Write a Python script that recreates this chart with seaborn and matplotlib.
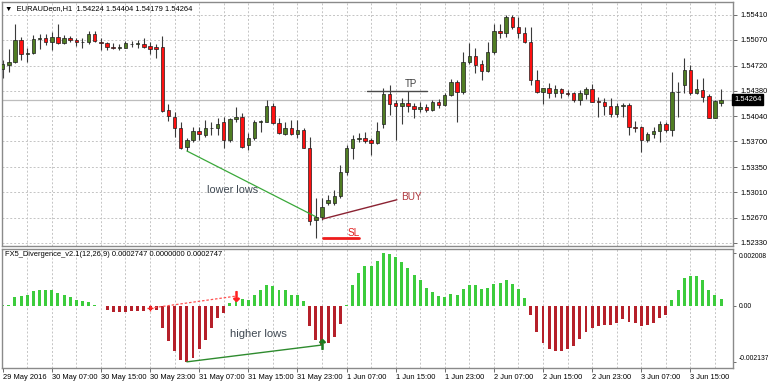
import numpy as np
import pandas as pd
import matplotlib
matplotlib.use("Agg")
import matplotlib.pyplot as plt
import seaborn as sns
from matplotlib.transforms import blended_transform_factory

# ---------------- data ----------------
opens = [
1.54677, 1.54731, 1.54767, 1.55069, 1.54879, 1.54889, 1.55082, 1.55092, 1.55038, 1.55113,
1.55024, 1.55100, 1.55073, 1.55038, 1.55046, 1.55150, 1.55046, 1.55024, 1.54978, 1.54956,
1.54965, 1.55019, 1.55011, 1.55011, 1.54992, 1.54970, 1.54970, 1.54123, 1.54032, 1.53884,
1.53623, 1.53718, 1.53839, 1.53785, 1.53876, 1.53884, 1.53957, 1.53718, 1.53997, 1.54032,
1.53650, 1.53749, 1.53965, 1.53965, 1.54177, 1.53943, 1.53795, 1.53876, 1.53795, 1.53853,
1.53614, 1.52637, 1.52681, 1.52862, 1.52862, 1.52961, 1.53289, 1.53614, 1.53731, 1.53749,
1.53718, 1.53673, 1.53930, 1.54335, 1.54213, 1.54177, 1.54213, 1.54177, 1.54132, 1.54167,
1.54123, 1.54227, 1.54190, 1.54325, 1.54505, 1.54362, 1.54767, 1.54849, 1.54740, 1.54650,
1.54903, 1.55190, 1.55159, 1.55383, 1.55240, 1.55159, 1.55046, 1.54528, 1.54362, 1.54416,
1.54348, 1.54407, 1.54357, 1.54348, 1.54258, 1.54335, 1.54407, 1.54240, 1.54227, 1.54181,
1.54065, 1.54181, 1.54190, 1.53897, 1.53897, 1.53718, 1.53795, 1.53839, 1.53930, 1.53853,
1.54362, 1.54461, 1.54663, 1.54348, 1.54393, 1.54316, 1.54019, 1.54224]

highs = [
1.54798, 1.54947, 1.55281, 1.55105, 1.54961, 1.55136, 1.55146, 1.55146, 1.55181, 1.55285,
1.55136, 1.55123, 1.55092, 1.55092, 1.55190, 1.55190, 1.55092, 1.55038, 1.55024, 1.55011,
1.55055, 1.55055, 1.55069, 1.55092, 1.55038, 1.55011, 1.55123, 1.54200, 1.54092, 1.53965,
1.53741, 1.53897, 1.53897, 1.53988, 1.53965, 1.54011, 1.54032, 1.54011, 1.54167, 1.54078,
1.53808, 1.53988, 1.53988, 1.54258, 1.54213, 1.54011, 1.53965, 1.53988, 1.53988, 1.53876,
1.53762, 1.52930, 1.52930, 1.52975, 1.53042, 1.53380, 1.53650, 1.53785, 1.53808, 1.53830,
1.53749, 1.53965, 1.54424, 1.54461, 1.54258, 1.54281, 1.54380, 1.54213, 1.54235, 1.54200,
1.54258, 1.54267, 1.54348, 1.54542, 1.54528, 1.54911, 1.55024, 1.54956, 1.54798, 1.55038,
1.55281, 1.55281, 1.55406, 1.55406, 1.55383, 1.55248, 1.55248, 1.54663, 1.54424, 1.54484,
1.54461, 1.54424, 1.54393, 1.54362, 1.54393, 1.54438, 1.54470, 1.54303, 1.54289, 1.54281,
1.54213, 1.54213, 1.54213, 1.53974, 1.53911, 1.53830, 1.53897, 1.53974, 1.53965, 1.54640,
1.54505, 1.54829, 1.54731, 1.54542, 1.54551, 1.54335, 1.54258, 1.54404]

lows = [
1.54559, 1.54640, 1.54754, 1.54798, 1.54775, 1.54875, 1.54943, 1.55001, 1.54933, 1.55015,
1.55011, 1.55046, 1.54992, 1.54965, 1.55011, 1.55038, 1.54933, 1.54933, 1.54947, 1.54933,
1.54956, 1.54978, 1.54956, 1.54965, 1.54875, 1.54821, 1.54100, 1.53974, 1.53762, 1.53595,
1.53569, 1.53695, 1.53718, 1.53762, 1.53785, 1.53785, 1.53605, 1.53695, 1.53965, 1.53605,
1.53582, 1.53718, 1.53830, 1.53957, 1.53930, 1.53795, 1.53785, 1.53785, 1.53741, 1.53605,
1.52569, 1.52390, 1.52637, 1.52840, 1.52840, 1.52930, 1.53245, 1.53461, 1.53695, 1.53673,
1.53515, 1.53659, 1.53876, 1.54055, 1.53718, 1.53934, 1.54100, 1.54019, 1.54100, 1.54100,
1.54109, 1.54146, 1.54177, 1.54316, 1.53957, 1.54335, 1.54740, 1.54619, 1.54528, 1.54640,
1.54875, 1.55092, 1.55113, 1.55217, 1.55092, 1.55024, 1.54461, 1.54348, 1.54200, 1.54281,
1.54303, 1.54285, 1.54316, 1.54235, 1.54190, 1.54271, 1.54227, 1.54032, 1.54055, 1.54032,
1.54032, 1.54032, 1.53785, 1.53830, 1.53560, 1.53695, 1.53741, 1.53695, 1.53830, 1.53776,
1.54032, 1.54348, 1.54325, 1.54335, 1.54227, 1.54011, 1.54011, 1.54179]

closes = [
1.54740, 1.54767, 1.55069, 1.54875, 1.54897, 1.55078, 1.55092, 1.55038, 1.55113, 1.55024,
1.55100, 1.55069, 1.55038, 1.55046, 1.55150, 1.55055, 1.55024, 1.54970, 1.54956, 1.54978,
1.55024, 1.55011, 1.55024, 1.54978, 1.54943, 1.54947, 1.54109, 1.54046, 1.53876, 1.53605,
1.53718, 1.53839, 1.53795, 1.53884, 1.53884, 1.53930, 1.53718, 1.53997, 1.54032, 1.53627,
1.53749, 1.53965, 1.53974, 1.54177, 1.53943, 1.53808, 1.53876, 1.53795, 1.53853, 1.53614,
1.52623, 1.52681, 1.52817, 1.52907, 1.52961, 1.53289, 1.53614, 1.53731, 1.53749, 1.53704,
1.53673, 1.53839, 1.54335, 1.54200, 1.54177, 1.54221, 1.54177, 1.54132, 1.54167, 1.54123,
1.54235, 1.54190, 1.54325, 1.54505, 1.54362, 1.54767, 1.54849, 1.54731, 1.54650, 1.54903,
1.55190, 1.55159, 1.55383, 1.55248, 1.55159, 1.55046, 1.54528, 1.54362, 1.54416, 1.54348,
1.54407, 1.54348, 1.54335, 1.54258, 1.54348, 1.54407, 1.54235, 1.54227, 1.54181, 1.54065,
1.54181, 1.54190, 1.53897, 1.53884, 1.53718, 1.53795, 1.53839, 1.53930, 1.53853, 1.54362,
1.54370, 1.54663, 1.54348, 1.54407, 1.54303, 1.54019, 1.54245, 1.54264]

hist = [
0.00004, 0.00004, 0.00033, 0.00039, 0.00042, 0.00057, 0.00063, 0.00063, 0.00061, 0.00051,
0.00042, 0.00035, 0.00025, 0.00019, 0.00016, 0.00006, 0.00001, -0.00013, -0.00022, -0.00024,
-0.00022, -0.00019, -0.00019, -0.00019, -0.00016, -0.00016, -0.00082, -0.00133, -0.00171, -0.00205,
-0.00212, -0.00196, -0.00163, -0.00129, -0.00082, -0.00047, -0.00028, 0.00010, 0.00029, 0.00027,
0.00025, 0.00044, 0.00061, 0.00080, 0.00077, 0.00063, 0.00061, 0.00044, 0.00042, 0.00020,
-0.00076, -0.00129, -0.00148, -0.00142, -0.00117, -0.00068, 0.00003, 0.00082, 0.00124, 0.00152,
0.00153, 0.00171, 0.00200, 0.00199, 0.00186, 0.00167, 0.00144, 0.00119, 0.00098, 0.00068,
0.00053, 0.00038, 0.00034, 0.00047, 0.00041, 0.00066, 0.00081, 0.00079, 0.00066, 0.00068,
0.00085, 0.00089, 0.00100, 0.00085, 0.00066, 0.00032, -0.00035, -0.00099, -0.00139, -0.00165,
-0.00172, -0.00172, -0.00165, -0.00150, -0.00124, -0.00099, -0.00084, -0.00076, -0.00073, -0.00071,
-0.00063, -0.00048, -0.00061, -0.00063, -0.00076, -0.00073, -0.00063, -0.00046, -0.00035, 0.00022,
0.00060, 0.00106, 0.00113, 0.00113, 0.00098, 0.00060, 0.00043, 0.000275]

time_labels = ["29 May 2016", "30 May 07:00", "30 May 15:00", "30 May 23:00",
               "31 May 07:00", "31 May 15:00", "31 May 23:00", "1 Jun 07:00",
               "1 Jun 15:00", "1 Jun 23:00", "2 Jun 07:00", "2 Jun 15:00",
               "2 Jun 23:00", "3 Jun 07:00", "3 Jun 15:00"]
price_ticks = [1.55410, 1.55070, 1.54720, 1.54380, 1.54040,
               1.53700, 1.53350, 1.53010, 1.52670, 1.52330]
osc_ticks = [0.002008, 0.0, -0.002137]
osc_tick_labels = ["0.002008", "0.00", "-0.002137"]

# trade annotations (bar index, price)
buy_bars = [52.1, 64.2]
buy_prices = [1.5265, 1.5291]
sl_bars = [52.1, 58.1]
sl_price = 1.5239
tp_bars = [59.3, 69.1]
tp_price = 1.54384
price_div_bars = [30, 51]
osc_div_bars = [30, 52]
bear_div_bars = [24, 38]
bear_div_vals = [-0.00008, 0.00038]

title_main = "EURAUDecn,H1  1.54224 1.54404 1.54179 1.54264"
title_osc = "FX5_Divergence_v2.1(12,26,9) 0.0002747 0.0000000 0.0002747"

# ---------------- style ----------------
sns.set_theme(style="white")
plt.rcParams['font.family'] = ['Liberation Sans', 'DejaVu Sans']

df = pd.DataFrame({"bar": np.arange(len(opens)), "open": opens, "high": highs,
                   "low": lows, "close": closes, "hist": hist})
df["up"] = df["close"] >= df["open"]
df["sign"] = np.where(df["hist"] >= 0, "pos", "neg")

fig = plt.figure(figsize=(7.68, 3.84), dpi=100)
W, H = 768.0, 384.0
xl, xr = 2.0, 733.0
ax = fig.add_axes([xl / W, 1 - 246 / H, (xr - xl) / W, (246 - 1.5) / H])
ax2 = fig.add_axes([xl / W, 1 - 368 / H, (xr - xl) / W, (368 - 248.5) / H])

xlim = (-0.11, 118.94)
FS = 5.4
spine_c = '#8a8a8a'
grid_c = '#c4c4c4'

# ---------- main candles ----------
for a in (ax, ax2):
    for v in range(4, 120, 4):
        a.axvline(v, color=grid_c, lw=0.7, ls=(0, (2, 2)), zorder=0)
for p in price_ticks:
    ax.axhline(p, color=grid_c, lw=0.7, ls=(0, (2, 2)), zorder=0)

ax.axhline(closes[-1], color='#bdbdbd', lw=0.9, zorder=1)

wick_lo = np.minimum(df["low"], np.minimum(df["open"], df["close"]))
wick_hi = np.maximum(df["high"], np.maximum(df["open"], df["close"]))
ax.vlines(df["bar"], wick_lo, wick_hi, color='#3a3a3a', lw=0.8, zorder=2)
body = (df["close"] - df["open"]).to_numpy()
body = np.where(np.abs(body) < 0.00003, np.where(body >= 0, 0.00003, -0.00003), body)
colors = np.where(df["up"], '#507d23', '#ff1010')
ax.bar(df["bar"], body, bottom=df["open"], width=0.56, color=colors,
       edgecolor='#1e1e1e', linewidth=0.5, zorder=3)

ax.set_xlim(*xlim)
ax.set_ylim(1.522855, 1.555887)

# price divergence line and trade marks
ax.plot(price_div_bars, [lows[price_div_bars[0]], closes[price_div_bars[1]]],
        color='#3aa83a', lw=0.9, zorder=4)
ax.plot(buy_bars, buy_prices, color='#8b2232', lw=1.0, zorder=4)
ax.plot(sl_bars, [sl_price, sl_price], color='#ee1c1c', lw=2.0, zorder=4)
ax.plot(tp_bars, [tp_price, tp_price], color='#4a4a4a', lw=1.0, zorder=4)
ax.text(33.3, 1.53042, "lower lows", fontsize=7.8, color='#3f4852', ha='left', va='center')
ax.text(64.9, 1.52948, "BUY", fontsize=7.3, color='#b03a40', ha='left', va='center')
ax.text(57.2, 1.52395, "SL", fontsize=7.2, color='#e02020', ha='center', va='bottom')
ax.text(66.5, 1.54400, "TP", fontsize=7.0, color='#404040', ha='center', va='bottom')

ax.text(0.004, 0.985, "\u25BC  " + title_main, transform=ax.transAxes, fontsize=FS,
        color='black', ha='left', va='top')

ax.yaxis.tick_right()
ax.set_yticks(price_ticks)
ax.set_yticklabels([f"{p:.5f}" for p in price_ticks])
ax.set_xticks([])
ax.tick_params(axis='y', which='both', right=True, length=3, width=0.6, color='#555555',
               labelsize=FS, pad=2, labelcolor='black')
trans = blended_transform_factory(ax.transAxes, ax.transData)
ax.text(1.0015, closes[-1], f"{closes[-1]:.5f}", transform=trans, fontsize=FS,
        color='white', ha='left', va='center',
        bbox=dict(facecolor='black', edgecolor='black', pad=1.2), zorder=10, clip_on=False)

# ---------- oscillator ----------
sns.barplot(data=df, x="bar", y="hist", hue="sign", palette={"pos": '#3ccc3c', "neg": '#b5202a'},
            native_scale=True, width=0.48, dodge=False, errorbar=None, saturation=1,
            legend=False, ax=ax2, zorder=2, linewidth=0)
ax2.set_xlim(*xlim)
ax2.set_ylim(-0.002354, 0.002190)
ax2.set_xlabel("")
ax2.set_ylabel("")

ax2.plot(bear_div_bars, bear_div_vals, color='#ff5050', lw=0.9, ls=(0, (2, 1.5)), zorder=4)
ax2.plot([bear_div_bars[0]], [bear_div_vals[0]], marker='+', color='#ff2020', ms=4, mew=1.0, zorder=5)
ax2.plot([bear_div_bars[1]], [bear_div_vals[1] + 0.00002], marker=r'$\downarrow$', color='#ff2020',
         ms=7, zorder=5)
ax2.plot(osc_div_bars, [hist[osc_div_bars[0]], hist[osc_div_bars[1]]], color='#2e8b2e', lw=1.0, zorder=4)
ax2.plot([osc_div_bars[1]], [hist[osc_div_bars[1]] + 0.00004], marker=r'$\uparrow$', color='#1f7a1f',
         ms=7, zorder=5)
ax2.text(37.0, -0.00106, "higher lows", fontsize=8.1, color='#3f4852', ha='left', va='center')
ax2.text(0.004, 0.975, title_osc, transform=ax2.transAxes, fontsize=FS, color='black',
         ha='left', va='top')

ax2.yaxis.tick_right()
ax2.set_yticks(osc_ticks)
ax2.set_yticklabels(osc_tick_labels)
ax2.tick_params(axis='y', which='both', right=True, length=2.5, width=0.6, color='#555555',
                labelsize=4.9, pad=1.5, labelcolor='black')
for lab in ax2.get_yticklabels():
    lab.set_verticalalignment('center')
ylabs = ax2.get_yticklabels()
ylabs[0].set_verticalalignment('top')
ylabs[-1].set_verticalalignment('bottom')
xt = list(range(0, 8 * len(time_labels), 8))
ax2.set_xticks(xt)
ax2.set_xticklabels(time_labels, ha='left')
ax2.tick_params(axis='x', which='both', bottom=True, length=3, width=0.6, color='#555555',
                labelsize=FS, pad=1.5, labelcolor='black')

for a in (ax, ax2):
    for s in a.spines.values():
        s.set_color(spine_c)
        s.set_linewidth(1.0)
        s.set_visible(True)

fig.savefig("out.png", dpi=100, facecolor='white')
